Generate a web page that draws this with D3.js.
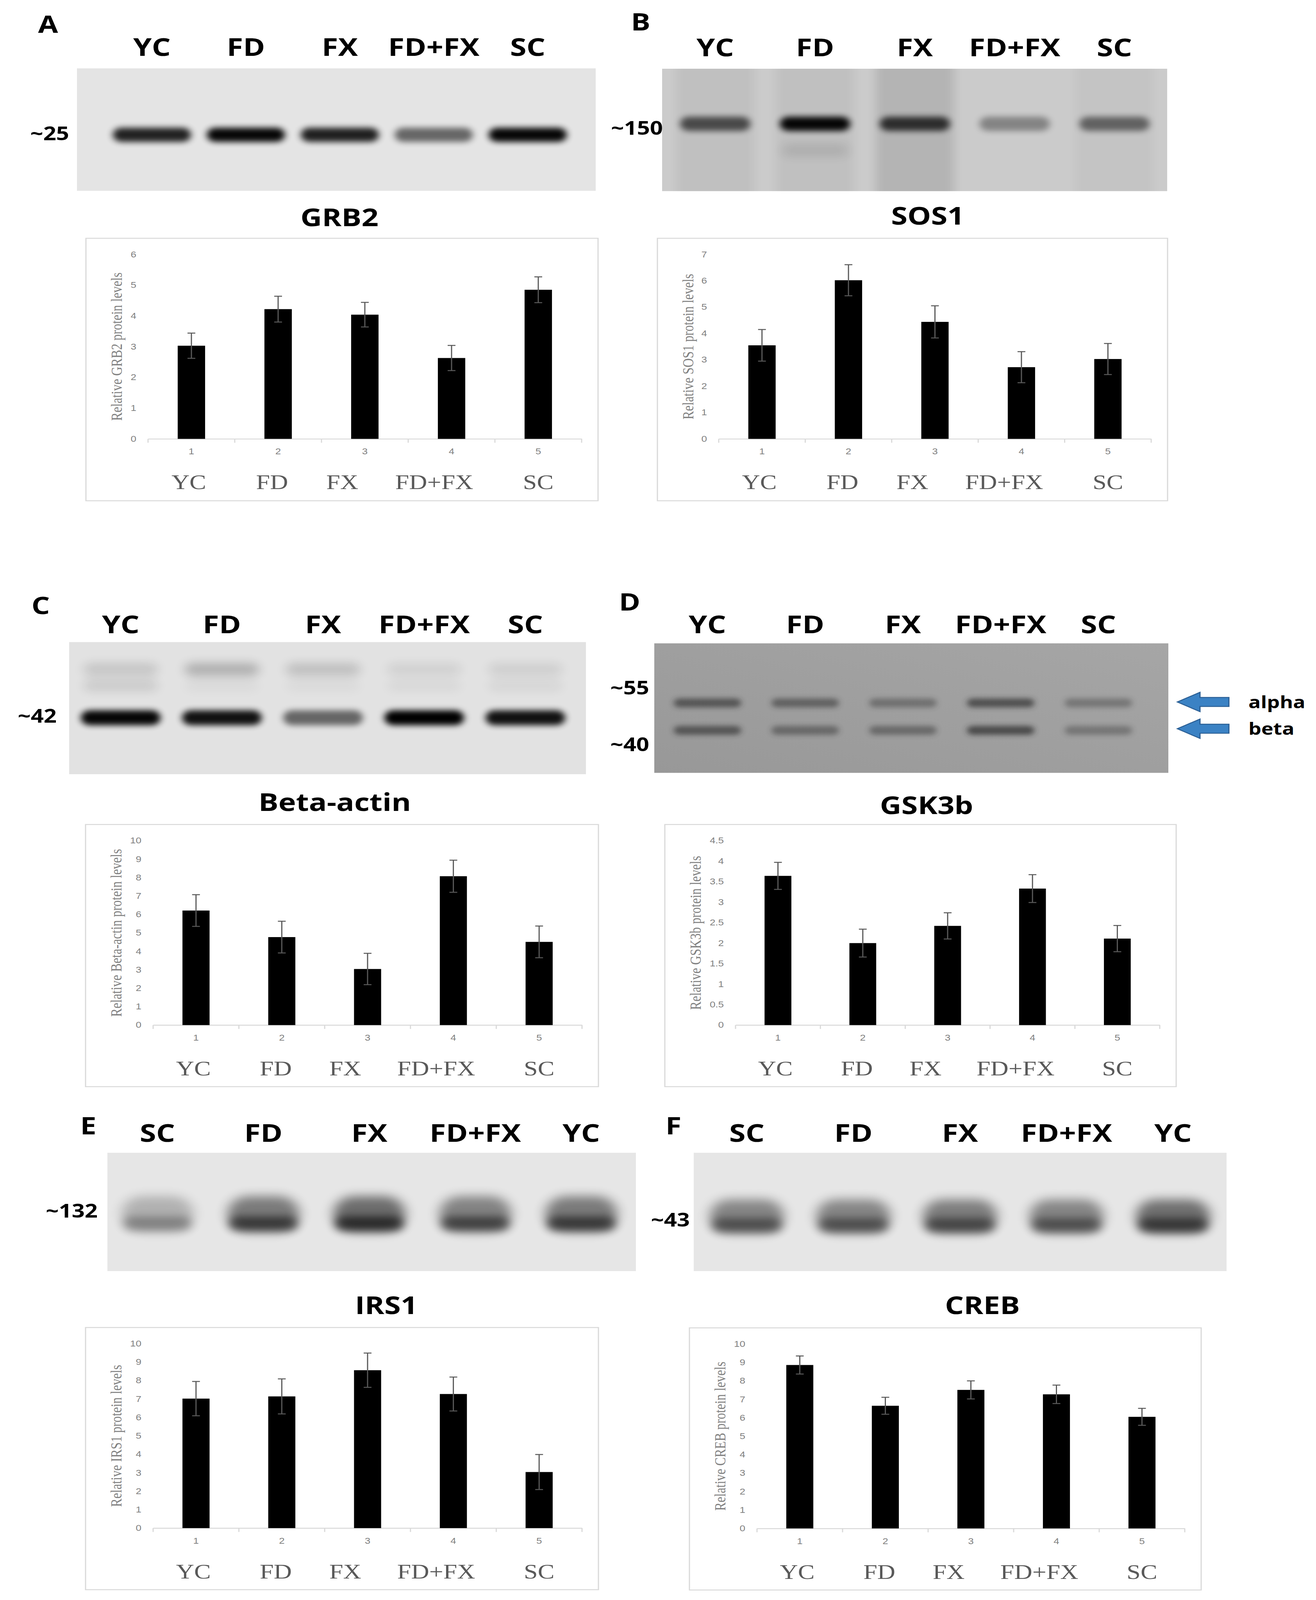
<!DOCTYPE html>
<html>
<head>
<meta charset="utf-8">
<script src="https://cdn.jsdelivr.net/npm/d3@7"></script>
<style>
  html, body { margin: 0; padding: 0; background: #fff; overflow: hidden; }
  svg { display: block; width: 100vw; height: 100vh; }
</style>
</head>
<body>
<svg id="fig" viewBox="0 0 3369 4962" preserveAspectRatio="none"></svg>
<script>

  // ---------------------------//
  //            DATA            //
  // ---------------------------//

var groups = ["YC", "FD", "FX", "FD+FX", "SC"];
var tickIndex = [1, 2, 3, 4, 5];

var grb2Mean  = [3.03, 4.22, 4.04, 2.63, 4.85];
var grb2Err   = [0.41, 0.42, 0.40, 0.41, 0.42];
var sos1Mean  = [3.55, 6.02, 4.44, 2.72, 3.03];
var sos1Err   = [0.60, 0.59, 0.61, 0.59, 0.59];
var actinMean = [6.21, 4.77, 3.04, 8.07, 4.51];
var actinErr  = [0.86, 0.86, 0.85, 0.87, 0.86];
var gskMean   = [3.64, 2.00, 2.42, 3.33, 2.11];
var gskErr    = [0.33, 0.34, 0.32, 0.34, 0.32];
var irs1Mean  = [7.02, 7.14, 8.56, 7.27, 3.04];
var irs1Err   = [0.93, 0.95, 0.93, 0.92, 0.95];
var crebMean  = [8.86, 6.65, 7.51, 7.27, 6.05];
var crebErr   = [0.49, 0.46, 0.49, 0.50, 0.46];

// lane order on the blots
var lanesTop    = ["YC", "FD", "FX", "FD+FX", "SC"];
var lanesBottom = ["SC", "FD", "FX", "FD+FX", "YC"];

// band darkness on the blots (0 = none, 1 = black)
var grb2Band   = [0.85, 0.97, 0.86, 0.55, 0.97];
var sos1Band   = [0.62, 0.97, 0.75, 0.35, 0.5];
var sos1Smear  = [0.0, 0.09, 0.0, 0.0, 0.0];
var sos1Lane   = [0.05, 0.05, 0.11, 0.0, 0.03];
var actinBand  = [0.97, 0.92, 0.55, 1.0, 0.92];
var actinUpper = [0.12, 0.22, 0.15, 0.07, 0.08];
var actinLower = [0.1, 0.03, 0.03, 0.04, 0.05];
var gskAlpha   = [0.62, 0.52, 0.4, 0.68, 0.36];
var gskBeta    = [0.62, 0.46, 0.45, 0.72, 0.36];
var irs1Band   = [0.38, 0.78, 0.88, 0.72, 0.78];
var crebBand   = [0.7, 0.7, 0.76, 0.7, 0.86];

  // ---------------------------//
  //           STYLES           //
  // ---------------------------//

var sans = "'Open Sans', 'DejaVu Sans', sans-serif";
var serif = "'Liberation Serif', 'DejaVu Serif', serif";
var tickFont = "'Liberation Sans', Arial, sans-serif";
var gridGray = "#d9d9d9";
var catNudge = [-0.03, -0.07, -0.26, -0.2, 0.0];

function scaled(arr, k) { return arr.map(function(d) { return d * k; }); }

  // ---------------------------//
  //           PANELS           //
  // ---------------------------//

var panels = [
  { letter: "A", lx: 123, ly: 102, title: "GRB2", tx: 869, ty: 702,
    box: { x: 220, y: 739, w: 1311, h: 814, left: 159 }, mean: grb2Mean, err: grb2Err,
    ymax: 6, ystep: 1, ylabel: "Relative GRB2 protein levels",
    blot: { x: 197, y: 212, w: 1328, h: 380, bg: "#e4e4e4", lanes: lanesTop,
            c0: 389, c1: 1351, labelY: 173,
            mw: [{ t: "~25", x: 177, y: 414 }],
            layers: [{ cy: 418, w: 200, h: 44, blur: 9, ink: "#000", dark: grb2Band }] } },
  { letter: "B", lx: 1640, ly: 94, title: "SOS1", tx: 2375, ty: 696,
    box: { x: 1683, y: 739, w: 1306, h: 814, left: 157 }, mean: sos1Mean, err: sos1Err,
    ymax: 7, ystep: 1, ylabel: "Relative SOS1 protein levels",
    blot: { x: 1695, y: 213, w: 1293, h: 380, bg: "#cbcbcb", lanes: lanesTop,
            c0: 1831, c1: 2853, labelY: 174, laneShade: sos1Lane,
            mw: [{ t: "~150", x: 1697, y: 397 }],
            layers: [
              { cy: 466, w: 170, h: 40, blur: 14, ink: "#000", dark: sos1Smear },
              { cy: 384, w: 180, h: 44, blur: 9, ink: "#000", dark: sos1Band }] } },
  { letter: "C", lx: 104, ly: 1904, title: "Beta-actin", tx: 857, ty: 2515,
    box: { x: 219, y: 2557, w: 1313, h: 813, left: 173 }, mean: actinMean, err: actinErr,
    ymax: 10, ystep: 1, ylabel: "Relative Beta-actin protein levels",
    blot: { x: 177, y: 1991, w: 1323, h: 410, bg: "#e2e2e2", lanes: lanesTop,
            c0: 309, c1: 1345, labelY: 1964,
            mw: [{ t: "~42", x: 145, y: 2220 }],
            layers: [
              { cy: 2076, w: 190, h: 40, blur: 14, ink: "#000", dark: actinUpper },
              { cy: 2126, w: 190, h: 36, blur: 14, ink: "#000", dark: actinLower },
              { cy: 2226, w: 204, h: 46, blur: 9, ink: "#000", dark: actinBand }] } },
  { letter: "D", lx: 1612, ly: 1893, title: "GSK3b", tx: 2372, ty: 2525,
    box: { x: 1702, y: 2557, w: 1309, h: 813, left: 181 }, mean: gskMean, err: gskErr,
    ymax: 4.5, ystep: 0.5, ylabel: "Relative GSK3b protein levels",
    blot: { x: 1675, y: 1995, w: 1316, h: 402, bg: "url(#gskBg)", lanes: lanesTop,
            c0: 1811, c1: 2812, labelY: 1964,
            mw: [{ t: "~55", x: 1662, y: 2133 }, { t: "~40", x: 1662, y: 2309 }],
            layers: [
              { cy: 2180, w: 172, h: 28, blur: 8, ink: "#2a2a2a", dark: gskAlpha },
              { cy: 2265, w: 172, h: 28, blur: 8, ink: "#2a2a2a", dark: gskBeta }] },
    arrows: [{ t: "alpha", y: 2177 }, { t: "beta", y: 2260 }] },
  { letter: "E", lx: 226, ly: 3518, title: "IRS1", tx: 989, ty: 4075,
    box: { x: 219, y: 4117, w: 1313, h: 813, left: 173 }, mean: irs1Mean, err: irs1Err,
    ymax: 10, ystep: 1, ylabel: "Relative IRS1 protein levels",
    blot: { x: 275, y: 3575, w: 1353, h: 367, bg: "#e6e6e6", lanes: lanesBottom,
            c0: 403, c1: 1488, labelY: 3541,
            mw: [{ t: "~132", x: 250, y: 3755 }],
            layers: [
              { cy: 3765, w: 184, h: 110, blur: 16, ink: "#000", dark: scaled(irs1Band, 0.6) },
              { cy: 3795, w: 176, h: 44, blur: 12, ink: "#000", dark: scaled(irs1Band, 0.7) }] } },
  { letter: "F", lx: 1724, ly: 3518, title: "CREB", tx: 2515, ty: 4075,
    box: { x: 1765, y: 4118, w: 1310, h: 813, left: 173 }, mean: crebMean, err: crebErr,
    ymax: 10, ystep: 1, ylabel: "Relative CREB protein levels",
    blot: { x: 1776, y: 3575, w: 1364, h: 367, bg: "#e6e6e6", lanes: lanesBottom,
            c0: 1912, c1: 3003, labelY: 3541,
            mw: [{ t: "~43", x: 1766, y: 3783 }],
            layers: [
              { cy: 3772, w: 190, h: 104, blur: 16, ink: "#000", dark: scaled(crebBand, 0.6) },
              { cy: 3800, w: 180, h: 44, blur: 12, ink: "#000", dark: scaled(crebBand, 0.6) }] } }
];

  // ---------------------------//
  //          CONTAINER         //
  // ---------------------------//

var svg = d3.select("#fig");
svg.append("rect").attr("width", 3369).attr("height", 4962).attr("fill", "#fff");

var defs = svg.append("defs");
[8, 9, 12, 14, 16].forEach(function(s) {
  defs.append("filter")
      .attr("id", "blur" + s)
      .attr("x", "-60%").attr("y", "-200%")
      .attr("width", "220%").attr("height", "500%")
    .append("feGaussianBlur")
      .attr("stdDeviation", s);
});

// the GSK3b membrane is a bit lighter towards the top right
var grad = defs.append("linearGradient")
    .attr("id", "gskBg")
    .attr("x1", "0").attr("y1", "1")
    .attr("x2", "1").attr("y2", "0");
grad.append("stop").attr("offset", "0").attr("stop-color", "#989898");
grad.append("stop").attr("offset", "1").attr("stop-color", "#a6a6a6");

  // ---------------------------//
  //            BLOTS           //
  // ---------------------------//

function drawBlot(g, b, idx) {
  defs.append("clipPath").attr("id", "clip" + idx)
    .append("rect").attr("x", b.x).attr("y", b.y).attr("width", b.w).attr("height", b.h);

  var lx = d3.scalePoint().domain(b.lanes).range([b.c0, b.c1]);

  var img = g.append("g").attr("clip-path", "url(#clip" + idx + ")");
  img.append("rect")
      .attr("x", b.x).attr("y", b.y)
      .attr("width", b.w).attr("height", b.h)
      .attr("fill", b.bg);

  if (b.laneShade) {
    img.selectAll(null)
      .data(b.laneShade)
      .enter().append("rect")
        .attr("x", function(d, i) { return lx(b.lanes[i]) - 100; })
        .attr("y", b.y - 40)
        .attr("width", 200)
        .attr("height", b.h + 80)
        .attr("fill", "#000")
        .attr("opacity", function(d) { return d; })
        .attr("filter", "url(#blur12)");
  }

  b.layers.forEach(function(layer) {
    img.selectAll(null)
      .data(layer.dark)
      .enter().append("rect")
        .attr("x", function(d, i) { return lx(b.lanes[i]) - layer.w / 2; })
        .attr("y", layer.cy - layer.h / 2)
        .attr("width", layer.w)
        .attr("height", layer.h)
        .attr("rx", layer.h / 2)
        .attr("fill", layer.ink)
        .attr("opacity", function(d) { return d; })
        .attr("filter", "url(#blur" + layer.blur + ")");
  });

  // lane labels
  g.selectAll(null)
    .data(b.lanes)
    .enter().append("text")
      .attr("x", function(d) { return lx(d); })
      .attr("y", b.labelY)
      .attr("text-anchor", "middle")
      .style("font-family", sans)
      .style("font-weight", 700)
      .style("font-size", "76px")
      .text(function(d) { return d; });

  // molecular weight marks
  g.selectAll(null)
    .data(b.mw)
    .enter().append("text")
      .attr("x", function(d) { return d.x; })
      .attr("y", function(d) { return d.y; })
      .attr("dy", "0.36em")
      .attr("text-anchor", "end")
      .style("font-family", sans)
      .style("font-weight", 700)
      .style("font-size", "58px")
      .text(function(d) { return d.t; });
}

function drawArrows(g, arrows) {
  var x0 = 3014;
  arrows.forEach(function(a) {
    var y = a.y;
    var pts = [[x0, y], [x0 + 58, y - 30], [x0 + 58, y - 14], [x0 + 132, y - 14],
               [x0 + 132, y + 14], [x0 + 58, y + 14], [x0 + 58, y + 30]];
    g.append("path")
        .attr("d", d3.line()(pts) + "Z")
        .attr("fill", "#3b82c4")
        .attr("stroke", "#2b5f95")
        .attr("stroke-width", 3);
    g.append("text")
        .attr("x", 3196)
        .attr("y", y + 19)
        .style("font-family", sans)
        .style("font-weight", 700)
        .style("font-size", "52px")
        .text(a.t);
  });
}

  // ---------------------------//
  //           CHARTS           //
  // ---------------------------//

function drawChart(g, p) {
  var b = p.box;

  g.append("rect")
      .attr("x", b.x).attr("y", b.y)
      .attr("width", b.w).attr("height", b.h)
      .attr("fill", "#fff")
      .attr("stroke", gridGray)
      .attr("stroke-width", 3);

  var x = d3.scaleBand()
      .domain(tickIndex)
      .range([b.x + b.left, b.x + b.w - 42])
      .padding(0);

  var y = d3.scaleLinear()
      .domain([0, p.ymax])
      .range([b.y + 622, b.y + 50]);

  var bw = x.bandwidth();
  var ticks = d3.range(0, p.ymax + p.ystep / 2, p.ystep);

  // y-axis labels
  var ya = g.append("g")
      .attr("transform", "translate(" + (b.x + b.left) + ",0)")
      .call(d3.axisLeft(y).tickValues(ticks).tickSize(0).tickPadding(30)
              .tickFormat(function(d) { return String(+d.toFixed(1)); }));
  ya.select(".domain").remove();
  ya.selectAll("text")
      .style("font-family", tickFont)
      .style("font-size", "26px")
      .attr("fill", "#7f7f7f");

  // x-axis
  var xa = g.append("g")
      .attr("transform", "translate(0," + y(0) + ")")
      .call(d3.axisBottom(x).tickSize(0).tickSizeOuter(0).tickPadding(30));
  xa.select(".domain").attr("stroke", gridGray).attr("stroke-width", 3);
  xa.selectAll("text")
      .style("font-family", tickFont)
      .style("font-size", "26px")
      .attr("fill", "#7f7f7f");

  // tick marks at category boundaries
  g.selectAll(null)
    .data(tickIndex.concat(["end"]))
    .enter().append("line")
      .attr("x1", function(d) { return d === "end" ? x.range()[1] : x(d); })
      .attr("x2", function(d) { return d === "end" ? x.range()[1] : x(d); })
      .attr("y1", y(0))
      .attr("y2", y(0) + 12)
      .attr("stroke", gridGray)
      .attr("stroke-width", 3);

  // bars
  g.selectAll(null)
    .data(p.mean)
    .enter().append("rect")
      .attr("x", function(d, i) { return x(tickIndex[i]) + bw * 0.342; })
      .attr("y", function(d) { return y(d); })
      .attr("width", bw * 0.316)
      .attr("height", function(d) { return y(0) - y(d); })
      .attr("fill", "#000");

  // error bars
  var eb = g.selectAll(null)
    .data(p.mean)
    .enter().append("g")
      .attr("stroke", "#595959")
      .attr("stroke-width", 3);
  eb.append("line")
      .attr("x1", function(d, i) { return x(tickIndex[i]) + bw / 2; })
      .attr("x2", function(d, i) { return x(tickIndex[i]) + bw / 2; })
      .attr("y1", function(d, i) { return y(d + p.err[i]); })
      .attr("y2", function(d, i) { return y(d - p.err[i]); });
  [1, -1].forEach(function(s) {
    eb.append("line")
        .attr("x1", function(d, i) { return x(tickIndex[i]) + bw / 2 - 10; })
        .attr("x2", function(d, i) { return x(tickIndex[i]) + bw / 2 + 10; })
        .attr("y1", function(d, i) { return y(d + s * p.err[i]); })
        .attr("y2", function(d, i) { return y(d + s * p.err[i]); });
  });

  // group names under the axis
  g.selectAll(null)
    .data(groups)
    .enter().append("text")
      .attr("x", function(d, i) { return x(tickIndex[i]) + bw / 2 + catNudge[i] * bw; })
      .attr("y", y(0) + 156)
      .attr("text-anchor", "middle")
      .style("font-family", serif)
      .style("font-size", "64px")
      .attr("fill", "#595959")
      .text(function(d) { return d; });

  // y-axis title
  var midY = (y(0) + y(p.ymax)) / 2;
  g.append("text")
      .attr("transform", "translate(" + (b.x + 78) + "," + midY + ") rotate(-90)")
      .attr("text-anchor", "middle")
      .attr("dy", "0.35em")
      .style("font-family", serif)
      .style("font-size", "39px")
      .attr("fill", "#7f7f7f")
      .text(p.ylabel);
}

  // ---------------------------//
  //           DRAWING          //
  // ---------------------------//

panels.forEach(function(p, i) {
  var g = svg.append("g").attr("class", "panel");

  g.append("text")
      .attr("x", p.lx).attr("y", p.ly)
      .attr("text-anchor", "middle")
      .style("font-family", sans)
      .style("font-weight", 700)
      .style("font-size", "74px")
      .text(p.letter);

  drawBlot(g, p.blot, i);
  if (p.arrows) drawArrows(g, p.arrows);

  g.append("text")
      .attr("x", p.tx).attr("y", p.ty)
      .attr("text-anchor", "middle")
      .style("font-family", sans)
      .style("font-weight", 700)
      .style("font-size", "76px")
      .text(p.title);

  drawChart(g, p);
});

</script>
</body>
</html>
